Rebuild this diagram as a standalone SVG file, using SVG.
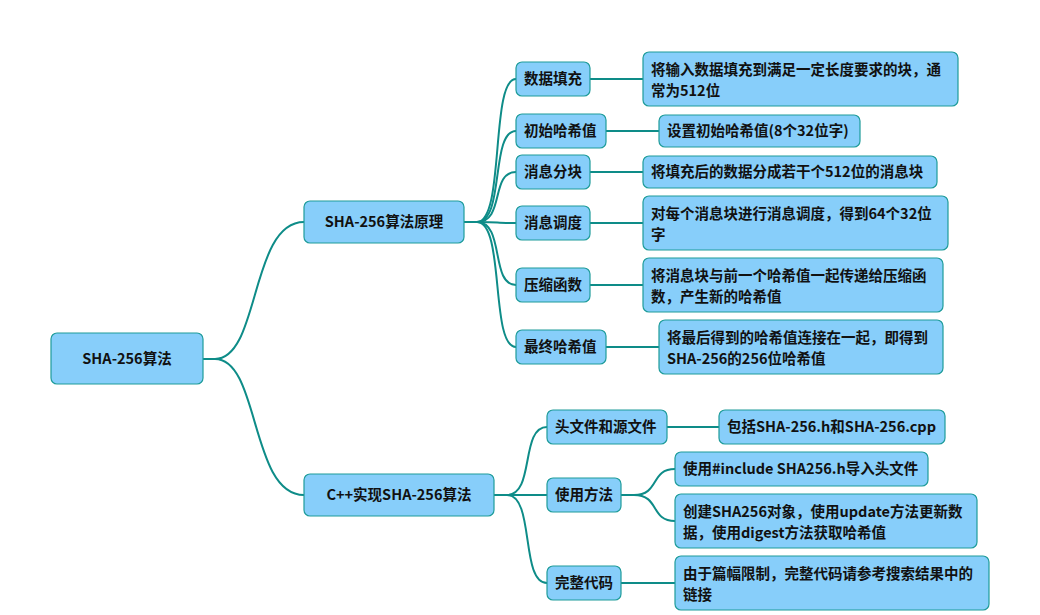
<svg xmlns="http://www.w3.org/2000/svg" width="1040" height="615" viewBox="0 0 1040 615">
<style>
.n{fill:#87CEFA;stroke:#1E9C9A;stroke-width:1.2}
text{font-family:"Noto Sans CJK SC","Noto Sans",sans-serif;font-weight:bold;font-size:14.5px;fill:#111}
.c{fill:none;stroke:#0E8C88;stroke-width:2}
</style>
<rect width="1040" height="615" fill="#fff"/>
<g id="connectors">
<path class="c" d="M203 359H215C260 359 250 222 304 222"/>
<path class="c" d="M203 359H215C260 359 250 495 304 495"/>
<path class="c" d="M464 222H477C505 222 490 79 516 79"/>
<path class="c" d="M464 222H477C505 222 490 131 516 131"/>
<path class="c" d="M464 222H477C505 222 490 172 516 172"/>
<path class="c" d="M464 222H477C505 222 490 223 516 223"/>
<path class="c" d="M464 222H477C505 222 490 285 516 285"/>
<path class="c" d="M464 222H477C505 222 490 347 516 347"/>
<path class="c" d="M590 79H643"/>
<path class="c" d="M606 131H659"/>
<path class="c" d="M590 172H643"/>
<path class="c" d="M590 223H643"/>
<path class="c" d="M590 285H643"/>
<path class="c" d="M606 347H659"/>
<path class="c" d="M494 495H507C535 495 520 427 547 427"/>
<path class="c" d="M494 495H547"/>
<path class="c" d="M494 495H507C535 495 520 583 547 583"/>
<path class="c" d="M667 427H719"/>
<path class="c" d="M621 495H634C660 495 650 469 675 469"/>
<path class="c" d="M621 495H634C660 495 650 521 675 521"/>
<path class="c" d="M621 583H675"/>
</g>
<g id="root"><rect class="n" x="51" y="333" width="152" height="51" rx="6"/><text x="127" y="364" text-anchor="middle">SHA-256算法</text></g>
<g id="a1"><rect class="n" x="304" y="201" width="160" height="42" rx="6"/><text x="384" y="227" text-anchor="middle">SHA-256算法原理</text></g>
<g id="a2"><rect class="n" x="304" y="474" width="190" height="42" rx="6"/><text x="399" y="500" text-anchor="middle">C++实现SHA-256算法</text></g>
<g id="b1"><rect class="n" x="516" y="62" width="74" height="34" rx="6"/><text x="524" y="84">数据填充</text></g>
<g id="b2"><rect class="n" x="516" y="114" width="90" height="34" rx="6"/><text x="524" y="136">初始哈希值</text></g>
<g id="b3"><rect class="n" x="516" y="155" width="74" height="34" rx="6"/><text x="524" y="177">消息分块</text></g>
<g id="b4"><rect class="n" x="516" y="206" width="74" height="34" rx="6"/><text x="524" y="228">消息调度</text></g>
<g id="b5"><rect class="n" x="516" y="268" width="74" height="34" rx="6"/><text x="524" y="290">压缩函数</text></g>
<g id="b6"><rect class="n" x="516" y="330" width="90" height="34" rx="6"/><text x="524" y="352">最终哈希值</text></g>
<g id="l1"><rect class="n" x="643" y="52" width="315" height="54" rx="6"/><text x="651" y="75">将输入数据填充到满足一定长度要求的块，通</text><text x="651" y="96">常为512位</text></g>
<g id="l2"><rect class="n" x="659" y="115" width="201" height="32" rx="6"/><text x="667" y="136">设置初始哈希值(8个32位字)</text></g>
<g id="l3"><rect class="n" x="643" y="156" width="294" height="32" rx="6"/><text x="651" y="177">将填充后的数据分成若干个512位的消息块</text></g>
<g id="l4"><rect class="n" x="643" y="196" width="305" height="54" rx="6"/><text x="651" y="219">对每个消息块进行消息调度，得到64个32位</text><text x="651" y="240">字</text></g>
<g id="l5"><rect class="n" x="643" y="258" width="300" height="54" rx="6"/><text x="651" y="281">将消息块与前一个哈希值一起传递给压缩函</text><text x="651" y="302">数，产生新的哈希值</text></g>
<g id="l6"><rect class="n" x="659" y="320" width="284" height="54" rx="6"/><text x="667" y="343">将最后得到的哈希值连接在一起，即得到</text><text x="667" y="364">SHA-256的256位哈希值</text></g>
<g id="c1"><rect class="n" x="547" y="410" width="120" height="34" rx="6"/><text x="555" y="432">头文件和源文件</text></g>
<g id="c2"><rect class="n" x="547" y="478" width="74" height="34" rx="6"/><text x="555" y="500">使用方法</text></g>
<g id="c3"><rect class="n" x="547" y="566" width="74" height="34" rx="6"/><text x="555" y="588">完整代码</text></g>
<g id="m1"><rect class="n" x="719" y="410" width="226" height="34" rx="6"/><text x="727" y="432">包括SHA-256.h和SHA-256.cpp</text></g>
<g id="m2"><rect class="n" x="675" y="452" width="253" height="34" rx="6"/><text x="683" y="474">使用#include SHA256.h导入头文件</text></g>
<g id="m3"><rect class="n" x="675" y="494" width="302" height="54" rx="6"/><text x="683" y="517">创建SHA256对象，使用update方法更新数</text><text x="683" y="538">据，使用digest方法获取哈希值</text></g>
<g id="m4"><rect class="n" x="675" y="556" width="314" height="54" rx="6"/><text x="683" y="579">由于篇幅限制，完整代码请参考搜索结果中的</text><text x="683" y="600">链接</text></g>
</svg>
